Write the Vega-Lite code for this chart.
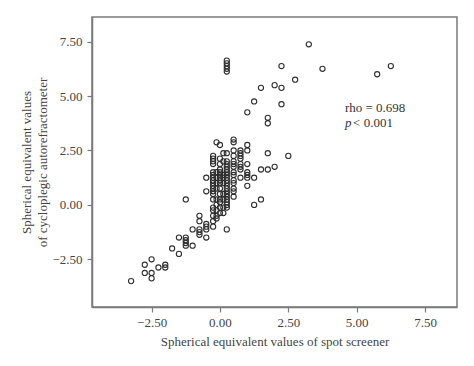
{
  "$schema": "https://vega.github.io/schema/vega-lite/v6.json",
  "width": 365,
  "height": 290,
  "autosize": {"type": "none"},
  "padding": {"left": 92, "top": 17, "right": 17, "bottom": 59},
  "background": "white",
  "config": {
    "view": {"stroke": "#7a7a7a", "strokeWidth": 1.5},
    "font": "Liberation Serif",
    "axis": {
      "grid": false,
      "domainColor": "#7a7a7a",
      "domainWidth": 1.5,
      "tickColor": "#7a7a7a",
      "tickWidth": 1.2,
      "tickSize": 5,
      "labelFont": "Liberation Serif",
      "labelFontSize": 13,
      "labelColor": "#444444",
      "titleFont": "Liberation Serif",
      "titleFontSize": 13,
      "titleFontWeight": "normal",
      "titleColor": "#444444"
    }
  },
  "layer": [
    {
      "data": {
        "values": [
          {"x": 3.25, "y": 7.375}, {"x": 0.25, "y": 6.625}, {"x": 0.25, "y": 6.5}, {"x": 0.25, "y": 6.375}, {"x": 0.25, "y": 6.25}, {"x": 0.25, "y": 6.125},
          {"x": 2.25, "y": 6.375}, {"x": 3.75, "y": 6.25}, {"x": 6.25, "y": 6.375}, {"x": 5.75, "y": 6.0}, {"x": 2.75, "y": 5.75}, {"x": 2.0, "y": 5.5},
          {"x": 2.25, "y": 5.375}, {"x": 1.5, "y": 5.375}, {"x": 1.25, "y": 4.75}, {"x": 2.25, "y": 4.625}, {"x": 1.0, "y": 4.25}, {"x": 1.75, "y": 4.0}, {"x": 1.75, "y": 3.75},
          {"x": 2.5, "y": 2.25}, {"x": 1.75, "y": 2.375}, {"x": 1.5, "y": 1.625}, {"x": 1.75, "y": 1.625}, {"x": 2.0, "y": 1.75}, {"x": 1.25, "y": 1.25},
          {"x": 1.0, "y": 0.875}, {"x": 1.25, "y": 0.0}, {"x": 1.5, "y": 0.25}, {"x": 0.5, "y": 0.375}, {"x": 0.25, "y": -1.125}, {"x": -1.25, "y": 0.25},
          {"x": -0.5, "y": 1.25}, {"x": -0.5, "y": 0.625},
          {"x": -0.125, "y": 2.875}, {"x": 0.0, "y": 2.75}, {"x": 0.5, "y": 3.0}, {"x": 0.5, "y": 2.875}, {"x": 1.0, "y": 2.75}, {"x": 1.0, "y": 2.5},
          {"x": 0.5, "y": 2.5}, {"x": 0.5, "y": 2.25}, {"x": 0.5, "y": 2.0}, {"x": 0.5, "y": 1.875}, {"x": 0.5, "y": 1.75}, {"x": 0.5, "y": 1.5}, {"x": 0.5, "y": 1.375}, {"x": 0.5, "y": 1.125}, {"x": 0.5, "y": 1.0}, {"x": 0.5, "y": 0.75}, {"x": 0.5, "y": 0.625},
          {"x": 0.75, "y": 2.5}, {"x": 0.75, "y": 2.375}, {"x": 0.75, "y": 2.25}, {"x": 0.75, "y": 2.125}, {"x": 0.75, "y": 1.875}, {"x": 0.75, "y": 1.75}, {"x": 0.75, "y": 1.625}, {"x": 0.75, "y": 1.25},
          {"x": 1.0, "y": 1.875}, {"x": 1.0, "y": 1.5}, {"x": 1.0, "y": 1.375}, {"x": 1.0, "y": 1.25},
          {"x": 0.25, "y": 2.375}, {"x": 0.25, "y": 2.0}, {"x": 0.25, "y": 1.875}, {"x": 0.25, "y": 1.75}, {"x": 0.25, "y": 1.625}, {"x": 0.25, "y": 1.5}, {"x": 0.25, "y": 1.375}, {"x": 0.25, "y": 1.25}, {"x": 0.25, "y": 1.125}, {"x": 0.25, "y": 1.0}, {"x": 0.25, "y": 0.875}, {"x": 0.25, "y": 0.75}, {"x": 0.25, "y": 0.625}, {"x": 0.25, "y": 0.5}, {"x": 0.25, "y": 0.375}, {"x": 0.25, "y": 0.25}, {"x": 0.25, "y": 0.125}, {"x": 0.25, "y": 0.0}, {"x": 0.25, "y": -0.125},
          {"x": 0.125, "y": 2.375}, {"x": 0.125, "y": 2.0}, {"x": 0.125, "y": 1.375}, {"x": 0.125, "y": 1.25}, {"x": 0.125, "y": 1.0}, {"x": 0.125, "y": 0.5}, {"x": 0.125, "y": 0.25}, {"x": 0.125, "y": -0.125}, {"x": 0.125, "y": -0.375},
          {"x": 0.0, "y": 2.125}, {"x": 0.0, "y": 1.875}, {"x": 0.0, "y": 1.625}, {"x": 0.0, "y": 1.5}, {"x": 0.0, "y": 1.375}, {"x": 0.0, "y": 1.25}, {"x": 0.0, "y": 1.125}, {"x": 0.0, "y": 1.0}, {"x": 0.0, "y": 0.75}, {"x": 0.0, "y": 0.5}, {"x": 0.0, "y": 0.25}, {"x": 0.0, "y": 0.125}, {"x": 0.0, "y": -0.125}, {"x": 0.0, "y": -0.375},
          {"x": -0.125, "y": 1.5}, {"x": -0.125, "y": 1.25}, {"x": -0.125, "y": 1.0}, {"x": -0.125, "y": 0.75}, {"x": -0.125, "y": 0.25}, {"x": -0.125, "y": 0.0}, {"x": -0.125, "y": -0.25}, {"x": -0.125, "y": -0.5}, {"x": -0.125, "y": -0.625},
          {"x": -0.25, "y": 2.25}, {"x": -0.25, "y": 2.125}, {"x": -0.25, "y": 2.0}, {"x": -0.25, "y": 1.875}, {"x": -0.25, "y": 1.5}, {"x": -0.25, "y": 1.375}, {"x": -0.25, "y": 1.25}, {"x": -0.25, "y": 1.125}, {"x": -0.25, "y": 1.0}, {"x": -0.25, "y": 0.875}, {"x": -0.25, "y": 0.75}, {"x": -0.25, "y": 0.625}, {"x": -0.25, "y": 0.5}, {"x": -0.25, "y": 0.25}, {"x": -0.25, "y": -0.125}, {"x": -0.25, "y": -0.25}, {"x": -0.25, "y": -0.5}, {"x": -0.25, "y": -0.75}, {"x": -0.25, "y": -1.0},
          {"x": -0.5, "y": -0.875}, {"x": -0.5, "y": -1.0}, {"x": -0.5, "y": -1.125}, {"x": -0.5, "y": -1.5},
          {"x": -0.75, "y": -0.5}, {"x": -0.75, "y": -0.75}, {"x": -0.75, "y": -1.125}, {"x": -0.75, "y": -1.25}, {"x": -0.75, "y": -1.375},
          {"x": -1.0, "y": -1.125}, {"x": -1.0, "y": -1.875},
          {"x": -1.25, "y": -1.5}, {"x": -1.25, "y": -1.625}, {"x": -1.25, "y": -1.75}, {"x": -1.25, "y": -1.875},
          {"x": -1.5, "y": -1.5}, {"x": -1.5, "y": -2.25}, {"x": -1.75, "y": -2.0},
          {"x": -2.0, "y": -2.75}, {"x": -2.0, "y": -2.875}, {"x": -2.25, "y": -2.875},
          {"x": -2.5, "y": -2.5}, {"x": -2.5, "y": -3.125}, {"x": -2.5, "y": -3.375},
          {"x": -2.75, "y": -2.75}, {"x": -2.75, "y": -3.125}, {"x": -3.25, "y": -3.5}
        ]
      },
      "mark": {"type": "point", "shape": "circle", "filled": false, "size": 27, "stroke": "#2f2f2f", "strokeWidth": 1.1, "opacity": 1},
      "encoding": {
        "x": {
          "field": "x", "type": "quantitative",
          "scale": {"domain": [-4.68, 8.67], "nice": false, "zero": false},
          "axis": {"values": [-2.5, 0, 2.5, 5, 7.5], "format": ".2f", "title": "Spherical equivalent values of spot screener", "labelPadding": 4, "titlePadding": 6}
        },
        "y": {
          "field": "y", "type": "quantitative",
          "scale": {"domain": [-4.69, 8.63], "nice": false, "zero": false},
          "axis": {"values": [-2.5, 0, 2.5, 5, 7.5], "format": ".2f", "title": ["Spherical equivalent values", "of cycloplegic autorefractometer"], "labelPadding": 5, "titlePadding": 2, "titleLineHeight": 16}
        }
      }
    },
    {
      "data": {"values": [{"label": "rho = 0.698"}]},
      "mark": {"type": "text", "align": "left", "baseline": "middle", "fontSize": 13, "font": "Liberation Serif", "color": "#333333"},
      "encoding": {"text": {"field": "label"}, "x": {"datum": 4.57}, "y": {"datum": 4.44}}
    },
    {
      "data": {"values": [{"label": "p"}]},
      "mark": {"type": "text", "align": "left", "baseline": "middle", "fontSize": 13, "font": "Liberation Serif", "fontStyle": "italic", "color": "#333333"},
      "encoding": {"text": {"field": "label"}, "x": {"datum": 4.57}, "y": {"datum": 3.77}}
    },
    {
      "data": {"values": [{"label": "< 0.001"}]},
      "mark": {"type": "text", "align": "left", "baseline": "middle", "fontSize": 13, "font": "Liberation Serif", "color": "#333333"},
      "encoding": {"text": {"field": "label"}, "x": {"datum": 4.87}, "y": {"datum": 3.77}}
    }
  ]
}
